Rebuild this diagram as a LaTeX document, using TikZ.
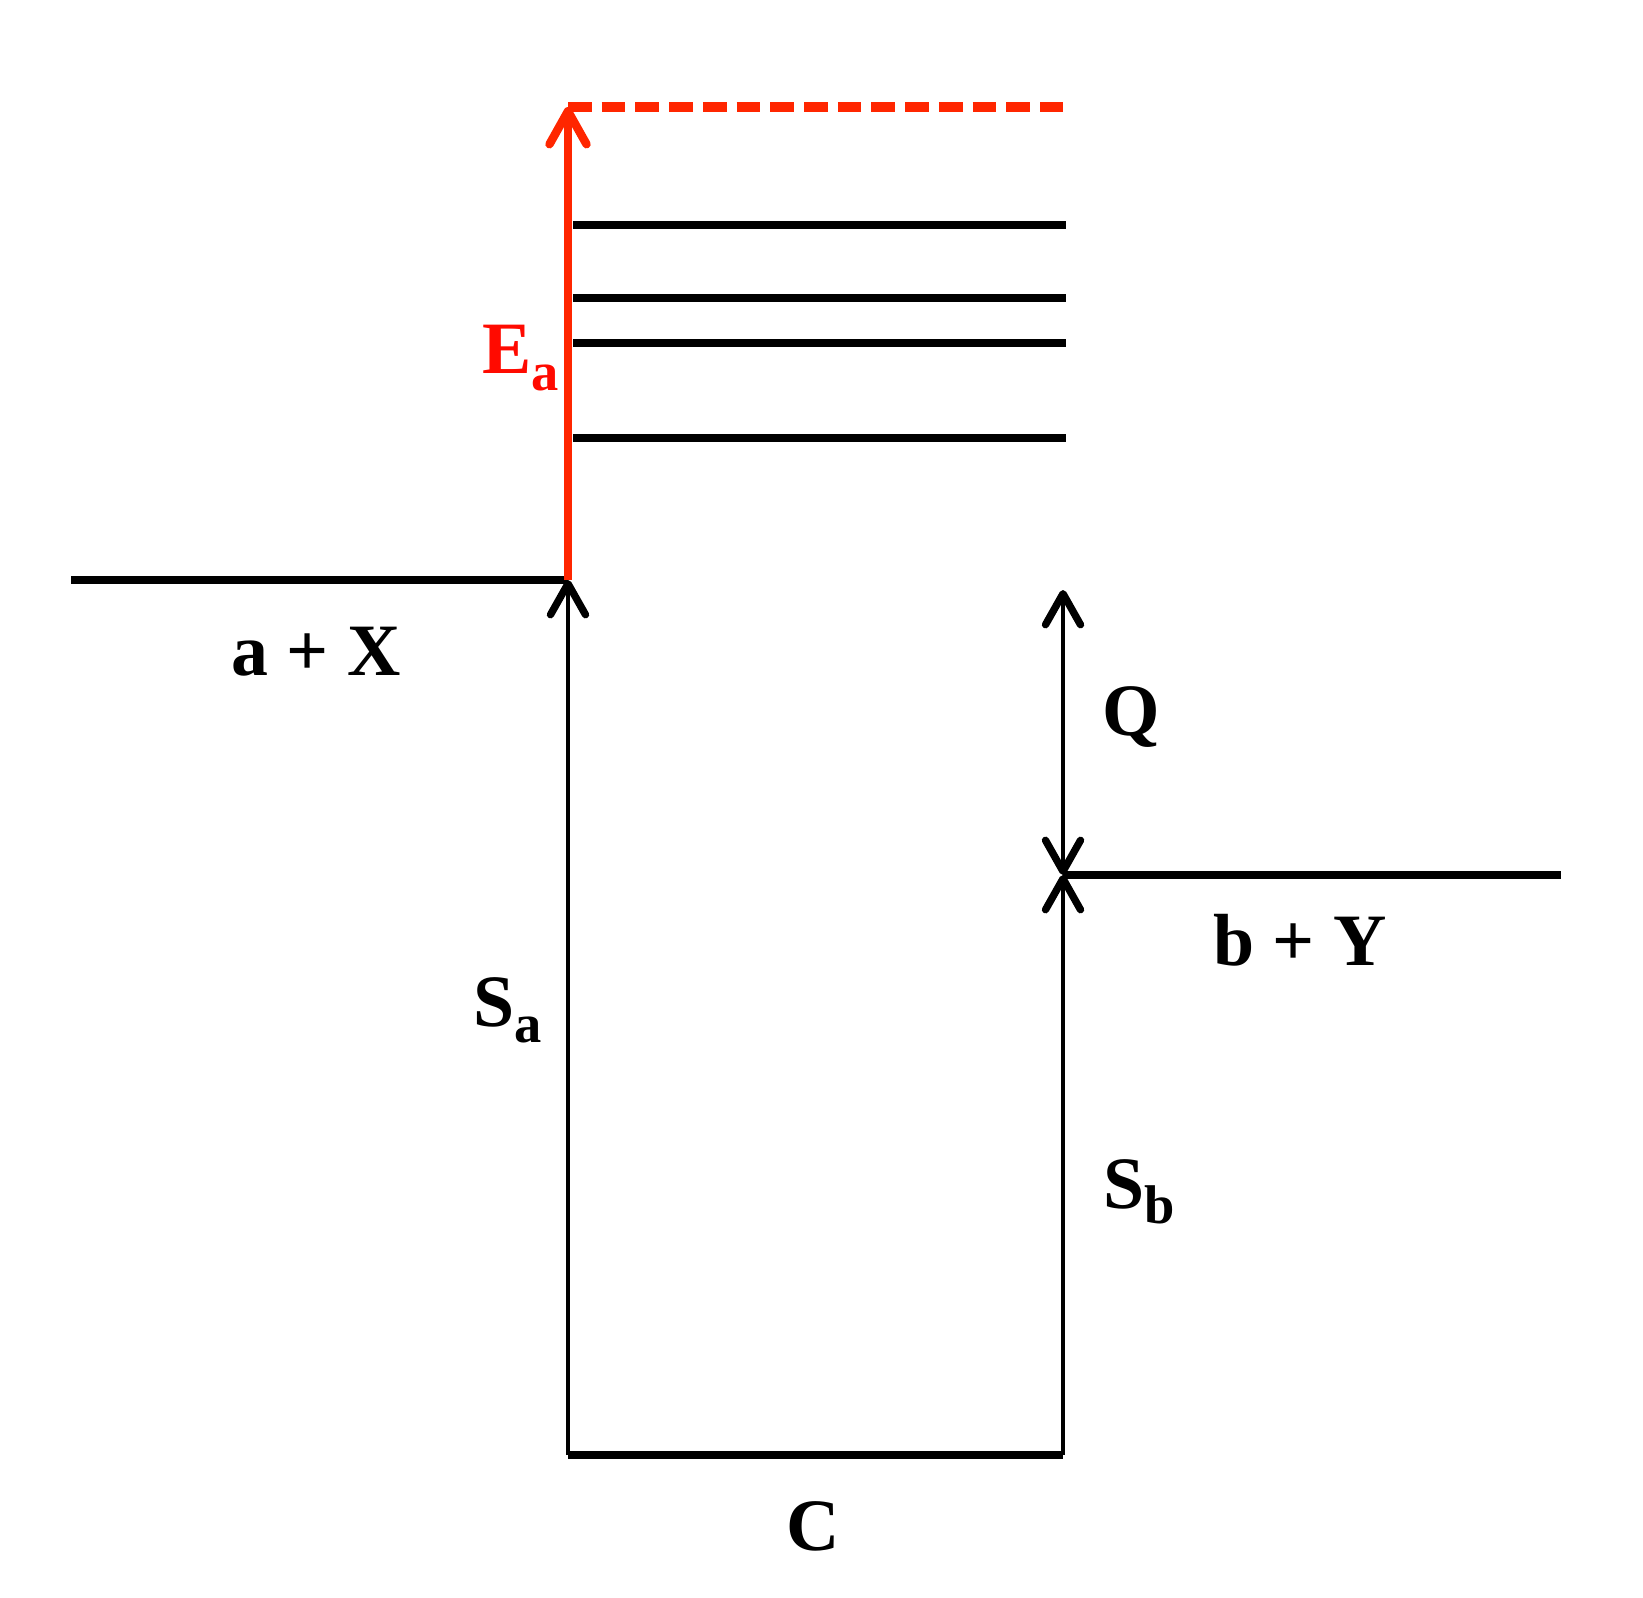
\documentclass[tikz,border=0pt]{standalone}
\usepackage{fontspec}
\setmainfont{Liberation Serif}
\usetikzlibrary{arrows.meta}
\definecolor{linered}{RGB}{255,38,0}
\definecolor{textred}{RGB}{255,10,0}
\tikzset{
  level/.style={line width=2.3pt, black},
  thinline/.style={line width=1.1pt, black},
  redline/.style={line width=2.2pt, linered},
  bartip/.tip={Straight Barb[length=0.31cm, width=0.35cm, line width'=2.1pt, round]},
  redtip/.tip={Straight Barb[length=0.33cm, width=0.37cm, line width'=2.4pt, round]},
  lbl/.style={inner sep=0pt, font=\fontsize{21}{21}\selectfont\bfseries},
}
\newcommand{\lowsub}[2]{\raisebox{-#1}{\fontsize{15.5}{15.5}\selectfont #2}}
\begin{document}
\begin{tikzpicture}[x=0.01cm, y=-0.01cm]
\useasboundingbox (0,0) rectangle (1643,1597);
% coordinates
\coordinate (axl) at (71,580);
\coordinate (axr) at (568,580);
\coordinate (top) at (568,107);
\coordinate (dashr) at (1063,107);
\coordinate (bl) at (568,1455);
\coordinate (br) at (1063,1455);
\coordinate (by) at (1063,875);
\coordinate (byr) at (1561,875);
\coordinate (qtop) at (1063,590);
\foreach \n/\y in {1/225, 2/298, 3/343, 4/438} {
  \coordinate (l\n a) at (573,\y);
  \coordinate (l\n b) at (1066,\y);
}
% levels
\foreach \n in {1,2,3,4} { \draw[level] (l\n a) -- (l\n b); }
\draw[level] (axl) -- (axr);
\draw[level] (by) -- (byr);
\draw[level] (bl) -- (br);
% red
\draw[redline, dash pattern=on 0.237cm off 0.10cm, line width=2.6pt] (top) -- (dashr);
\draw[redline, -{redtip}] (axr) -- (top);
% thin arrows
\draw[thinline, -{bartip}] (bl) -- (axr);
\draw[thinline, {bartip}-{bartip}] (by) -- (qtop);
\draw[thinline, -{bartip}] (br) -- (by);
% labels
\node[lbl, text=textred, anchor=base west] (ea) at (482,373) {E\lowsub{5.1pt}{a}};
\node[lbl, anchor=base] (ax) at (316,675) {a + X};
\node[lbl, anchor=base west] (q) at (1102,735) {Q};
\node[lbl, anchor=base] (bylbl) at (1300,965) {b + Y};
\node[lbl, anchor=base west] (sa) at (473,1026) {S\lowsub{4.8pt}{a}};
\node[lbl, anchor=base west] (sb) at (1103,1208) {S\lowsub{4.5pt}{b}};
\node[lbl, anchor=base] (c) at (813,1550) {C};
\end{tikzpicture}
\end{document}
